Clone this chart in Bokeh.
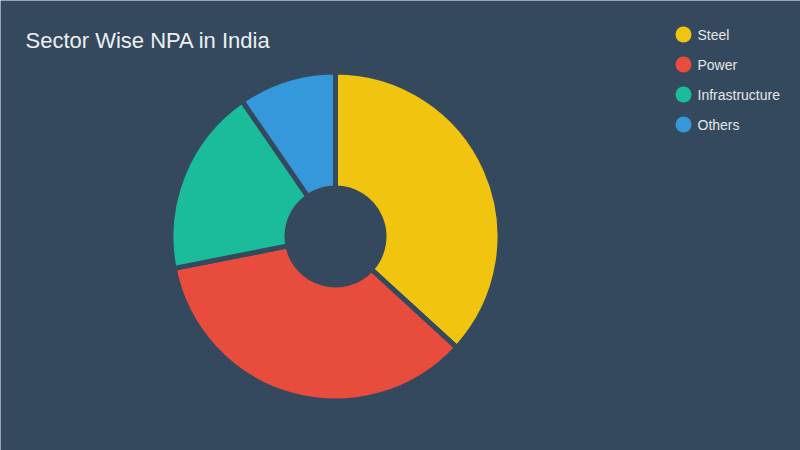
import math
from bokeh.plotting import figure
from bokeh.models import ColumnDataSource, Range1d
from bokeh.core.properties import value
from bokeh.embed import file_html
from bokeh.resources import INLINE

categories = ["Steel", "Power", "Infrastructure", "Others"]
shares = [36.8, 35.1, 18.5, 9.6]
colors = ["#f1c40f", "#e74c3c", "#1abc9c", "#3498db"]
title_text = "Sector Wise NPA in India"

BG = "#34495e"
W, H = 800, 450

total = sum(shares)
starts, ends = [], []
cum = 0.0
for s in shares:
    a0 = cum / total * 2 * math.pi
    cum += s
    a1 = cum / total * 2 * math.pi
    starts.append(math.pi / 2 - a0)
    ends.append(math.pi / 2 - a1)

p = figure(width=W, height=H, output_backend="svg", toolbar_location=None,
           x_range=Range1d(0, W), y_range=Range1d(0, H), min_border=0,
           background_fill_color=BG, border_fill_color=BG, outline_line_color=None)
p.axis.visible = False
p.grid.visible = False

cx, cy = 335, H - 236
src = ColumnDataSource(dict(start=starts, end=ends, color=colors, cat=categories))
p.annular_wedge(x=cx, y=cy, inner_radius=48.5, outer_radius=164.5,
                start_angle="start", end_angle="end", direction="clock",
                fill_color="color", line_color=BG, line_width=5, source=src)

p.text(x=[25], y=[H - 40], text=[title_text], text_font=value("Liberation Sans"),
       text_font_size="22px", text_color="#ecf0f1", text_baseline="middle")

ly = [H - 34 - 30 * i for i in range(len(categories))]
lsrc = ColumnDataSource(dict(x=[683] * len(categories), tx=[697] * len(categories),
                             y=ly, color=colors, cat=categories))
p.scatter(x="x", y="y", size=16, marker="circle", fill_color="color",
          line_color=None, source=lsrc)
p.text(x="tx", y="y", text="cat", text_font=value("Liberation Sans"),
       text_font_size="14px", text_color="#e6e6e6", text_baseline="middle",
       source=lsrc)

html = file_html(p, INLINE)
html = html.replace("<body>", '<body style="background:%s">' % BG, 1)
open("out.html", "w").write(html)
